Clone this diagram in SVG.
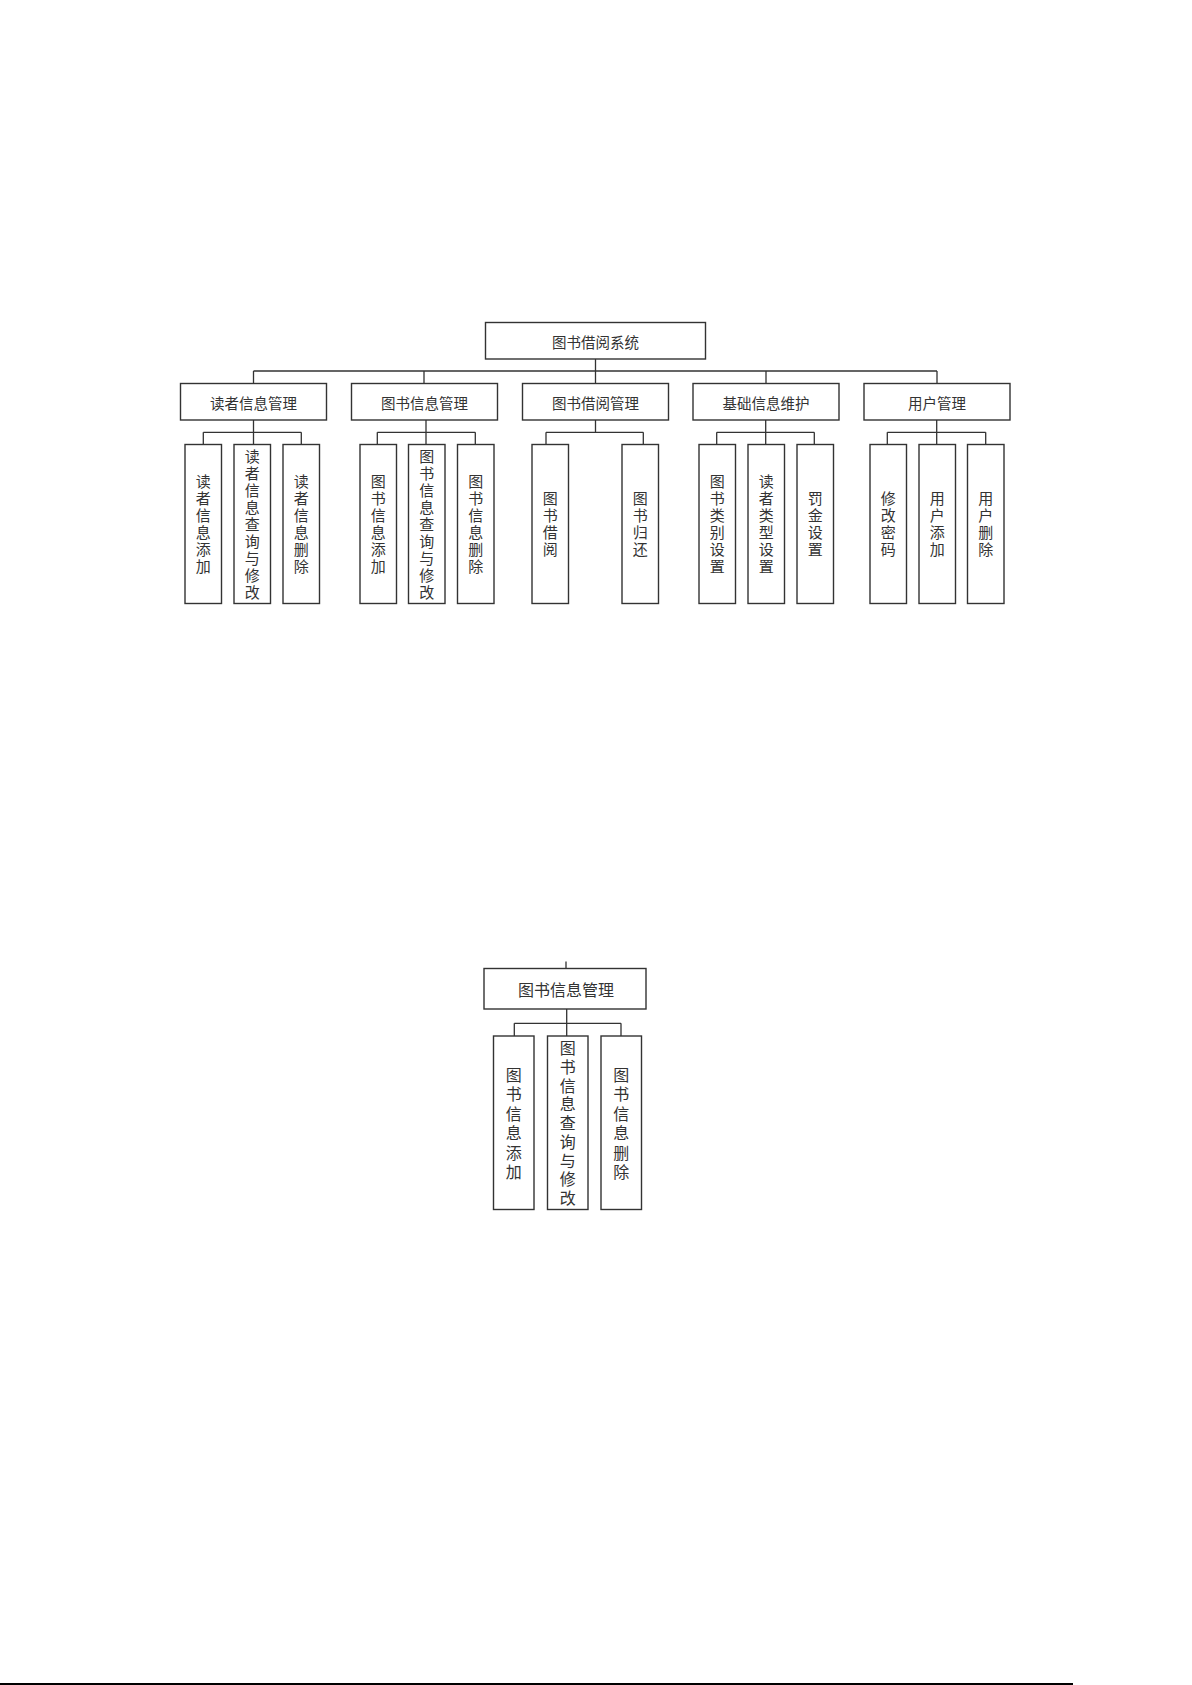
<svg xmlns="http://www.w3.org/2000/svg" width="1192" height="1685" viewBox="0 0 1192 1685">
<style>
.box{fill:#fff;stroke:#333;stroke-width:1.4}
.ln{fill:none;stroke:#333;stroke-width:1.3}
.t{font-family:"Noto Sans CJK SC","Noto Sans",sans-serif;font-size:14.5px;fill:#333;text-anchor:middle;dominant-baseline:central}
.v{font-family:"Noto Sans CJK SC","Noto Sans",sans-serif;font-size:15px;fill:#333;text-anchor:middle;writing-mode:vertical-rl;letter-spacing:2px}
.t2{font-family:"Noto Sans CJK SC","Noto Sans",sans-serif;font-size:16px;fill:#333;text-anchor:middle;dominant-baseline:central}
.v2{font-family:"Noto Sans CJK SC","Noto Sans",sans-serif;font-size:16px;fill:#333;text-anchor:middle;writing-mode:vertical-rl;letter-spacing:3.5px}
</style>
<rect width="1192" height="1685" fill="#fff"/>
<g id="connectors">
<path class="ln" d="M595.5 359V371M253.5 371H937M253.5 371V383.5M424 371V383.5M595.5 371V383.5M766 371V383.5M937 371V383.5"/>
<path class="ln" d="M253.5 420V444.5M203.3 432.3H301.3M203.3 432.3V444.5M301.3 432.3V444.5"/>
<path class="ln" d="M426 420V444.5M377.3 432.3H475.3M377.3 432.3V444.5M475.3 432.3V444.5"/>
<path class="ln" d="M595.5 420V432.3M546 432.3H643.3M546 432.3V444.5M643.3 432.3V444.5"/>
<path class="ln" d="M765.7 420V444.5M716.7 432.3H814.3M716.7 432.3V444.5M814.3 432.3V444.5"/>
<path class="ln" d="M936.7 420V444.5M887.3 432.3H985.7M887.3 432.3V444.5M985.7 432.3V444.5"/>
<path class="ln" d="M566 961.5V968.5M566.7 1009V1036M514.3 1023.3H621M514.3 1023.3V1036M621 1023.3V1036"/>
</g>
<g id="root"><rect class="box" x="485.5" y="322.5" width="220" height="36.5"/><text class="t" x="595.5" y="341">图书借阅系统</text></g>
<g id="n1"><rect class="box" x="180.5" y="383.5" width="146" height="36.5"/><text class="t" x="253.5" y="402">读者信息管理</text></g>
<g id="n2"><rect class="box" x="351.5" y="383.5" width="146" height="36.5"/><text class="t" x="424.5" y="402">图书信息管理</text></g>
<g id="n3"><rect class="box" x="522.5" y="383.5" width="146" height="36.5"/><text class="t" x="595.5" y="402">图书借阅管理</text></g>
<g id="n4"><rect class="box" x="693" y="383.5" width="146" height="36.5"/><text class="t" x="766" y="402">基础信息维护</text></g>
<g id="n5"><rect class="box" x="864" y="383.5" width="146" height="36.5"/><text class="t" x="937" y="402">用户管理</text></g>

<g id="l11"><rect class="box" x="185" y="444.5" width="36.5" height="159"/><text class="v" x="203.3" y="525">读者信息添加</text></g>
<g id="l12"><rect class="box" x="234" y="444.5" width="36.5" height="159"/><text class="v" x="252.3" y="525">读者信息查询与修改</text></g>
<g id="l13"><rect class="box" x="283" y="444.5" width="36.5" height="159"/><text class="v" x="301.3" y="525">读者信息删除</text></g>

<g id="l21"><rect class="box" x="360" y="444.5" width="36.5" height="159"/><text class="v" x="378.3" y="525">图书信息添加</text></g>
<g id="l22"><rect class="box" x="408.5" y="444.5" width="36.5" height="159"/><text class="v" x="426.8" y="525">图书信息查询与修改</text></g>
<g id="l23"><rect class="box" x="457.5" y="444.5" width="36.5" height="159"/><text class="v" x="475.8" y="525">图书信息删除</text></g>

<g id="l31"><rect class="box" x="532" y="444.5" width="36.5" height="159"/><text class="v" x="550.3" y="525">图书借阅</text></g>
<g id="l32"><rect class="box" x="622" y="444.5" width="36.5" height="159"/><text class="v" x="640.3" y="525">图书归还</text></g>

<g id="l41"><rect class="box" x="699" y="444.5" width="36.5" height="159"/><text class="v" x="717.3" y="525">图书类别设置</text></g>
<g id="l42"><rect class="box" x="748" y="444.5" width="36.5" height="159"/><text class="v" x="766.3" y="525">读者类型设置</text></g>
<g id="l43"><rect class="box" x="797" y="444.5" width="36.5" height="159"/><text class="v" x="815.3" y="525">罚金设置</text></g>

<g id="l51"><rect class="box" x="870" y="444.5" width="36.5" height="159"/><text class="v" x="888.3" y="525">修改密码</text></g>
<g id="l52"><rect class="box" x="919" y="444.5" width="36.5" height="159"/><text class="v" x="937.3" y="525">用户添加</text></g>
<g id="l53"><rect class="box" x="967.5" y="444.5" width="36.5" height="159"/><text class="v" x="985.8" y="525">用户删除</text></g>

<g id="d2box"><rect class="box" x="484" y="968.5" width="162" height="40.5"/><text class="t2" x="566" y="989">图书信息管理</text></g>
<g id="d2l1"><rect class="box" x="493.5" y="1036" width="40.5" height="173.5"/><text class="v2" x="513.8" y="1125">图书信息添加</text></g>
<g id="d2l2"><rect class="box" x="547.5" y="1036" width="40.5" height="173.5"/><text class="v2" x="567.8" y="1124.5" style="letter-spacing:2.75px">图书信息查询与修改</text></g>
<g id="d2l3"><rect class="box" x="601" y="1036" width="40.5" height="173.5"/><text class="v2" x="621.3" y="1125">图书信息删除</text></g>

<line x1="0" y1="1684" x2="1073" y2="1684" stroke="#000" stroke-width="2"/>
</svg>
